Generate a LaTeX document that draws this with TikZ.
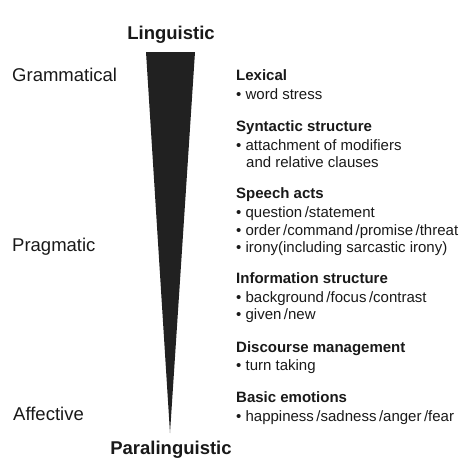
\documentclass[tikz,border=0pt]{standalone}
\usepackage{fontspec}
\setmainfont{Liberation Sans}
\begin{document}
\begin{tikzpicture}[
    x=1pt, y=-1pt,
    pole/.style={font=\bfseries\fontsize{18.5}{22}\selectfont, inner sep=0pt, text=black!90},
    tier/.style={anchor=mid west, font=\fontsize{18.5}{22}\selectfont, inner sep=0pt, text=black!90},
    cue/.style={anchor=mid west, font=\bfseries\fontsize{15}{18}\selectfont, inner sep=0pt, text=black!90},
    point/.style={anchor=mid west, font=\fontsize{15}{18}\selectfont, inner sep=0pt, text=black!90},
    wedge/.style={fill=black!87}
]
\useasboundingbox (0,0) rectangle (474,474);

% the tapering bar
\fill[wedge] (146,52) -- (195,52) -- (170,433) -- cycle;

\node[pole] (ling) at (171,35) {Linguistic};
\node[pole] (para) at (171,450) {Paralinguistic};

% levels on the left
\node[tier] (gram) at (12,79) {Grammatical};
\node[tier] (prag) at (12,249) {Pragmatic};
\node[tier] (affe) at (13,418) {Affective};

% cues on the right
\node[cue] (lex) at (236,78) {Lexical};
\node[point] (lex1) at (236,97) {\textbullet\ word stress};

\node[cue] (syn) at (236,129) {Syntactic structure};
\node[point] (syn1) at (236,148) {\textbullet\ attachment of modifiers};
\node[point] (syn2) at (246,165) {and relative clauses};

\node[cue] (act) at (236,196) {Speech acts};
\node[point] (act1) at (236,215) {\textbullet\ question\,/statement};
\node[point] (act2) at (236,233) {\textbullet\ order\,/command\,/promise\,/threat};
\node[point] (act3) at (236,250) {\textbullet\ irony(including sarcastic irony)};

\node[cue] (inf) at (236,281) {Information structure};
\node[point] (inf1) at (236,300) {\textbullet\ background\,/focus\,/contrast};
\node[point] (inf2) at (236,317) {\textbullet\ given\,/new};

\node[cue] (dis) at (236,350) {Discourse management};
\node[point] (dis1) at (236,368) {\textbullet\ turn taking};

\node[cue] (emo) at (236,400) {Basic emotions};
\node[point] (emo1) at (236,419) {\textbullet\ happiness\,/sadness\,/anger\,/fear};
\end{tikzpicture}
\end{document}
